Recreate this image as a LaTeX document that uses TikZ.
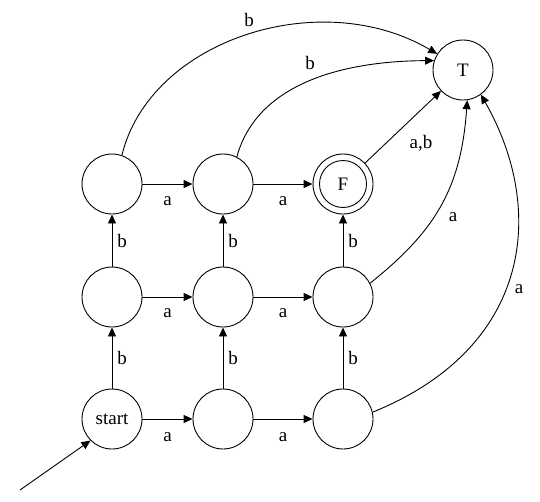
\documentclass[tikz,border=0pt]{standalone}
\usepackage{fontspec}
\setmainfont{Liberation Serif}
\usetikzlibrary{arrows.meta}
\begin{document}
\begin{tikzpicture}[x=1pt,y=-1pt,
  state/.style={draw,circle,minimum size=60pt,inner sep=0pt,line width=0.9pt,font=\fontsize{19}{22}\selectfont},
  arr/.style={line width=0.9pt,-{Triangle[length=9pt,width=8pt]}},
  lab/.style={font=\fontsize{19}{22}\selectfont,inner sep=1pt}]
\useasboundingbox[fill=white] (0,0) rectangle (540,501);
% states
\node[state] (s00) at (112,419) {start};
\node[state] (s01) at (223,419) {};
\node[state] (s02) at (343,419) {};
\node[state] (s10) at (112,297) {};
\node[state] (s11) at (223,297) {};
\node[state] (s12) at (343,297) {};
\node[state] (s20) at (112,184) {};
\node[state] (s21) at (223,184) {};
\node[state] (F) at (343,184) {F};
\draw[line width=0.9pt] (F.center) circle[radius=23.5pt];
\node[state] (T) at (463,70) {T};
% initial
\coordinate (init) at (20,490);
\draw[arr] (init) -- (s00.225);
% horizontal a
\draw[arr] (s00) -- (s01) node[lab,midway,yshift=-18pt] (la1) {a};
\draw[arr] (s01) -- (s02) node[lab,midway,yshift=-18pt] (la2) {a};
\draw[arr] (s10) -- (s11) node[lab,midway,yshift=-16pt] (la3) {a};
\draw[arr] (s11) -- (s12) node[lab,midway,yshift=-16pt] (la4) {a};
\draw[arr] (s20) -- (s21) node[lab,midway,yshift=-17pt] (la5) {a};
\draw[arr] (s21) -- (F) node[lab,midway,yshift=-17pt] (la6) {a};
% vertical b
\draw[arr] (s00) -- (s10) node[lab,midway,xshift=10pt] (lb1) {b};
\draw[arr] (s01) -- (s11) node[lab,midway,xshift=10pt] (lb2) {b};
\draw[arr] (s02) -- (s12) node[lab,midway,xshift=10pt] (lb3) {b};
\draw[arr] (s10) -- (s20) node[lab,midway,xshift=10pt] (lb4) {b};
\draw[arr] (s11) -- (s21) node[lab,midway,xshift=10pt] (lb5) {b};
\draw[arr] (s12) -- (F) node[lab,midway,xshift=10pt] (lb6) {b};
% edges to T
\draw[arr] (s20.71) .. controls (150,40) and (320,-15) .. (T.148);
\node[lab] (lt1) at (249,20) {b};
\draw[arr] (s21.63) .. controls (258,80) and (350,61) .. (T.162);
\node[lab] (lt2) at (310,63) {b};
\draw[arr] (F) -- (T);
\node[lab] (lt3) at (421,143) {a,b};
\draw[arr] (s12.27) .. controls (434,232) and (461,190) .. (T.278);
\node[lab] (lt4) at (453,217) {a};
\draw[arr] (s02.13) .. controls (531,348) and (547,211) .. (T.306);
\node[lab] (lt5) at (519,289) {a};
\end{tikzpicture}
\end{document}
